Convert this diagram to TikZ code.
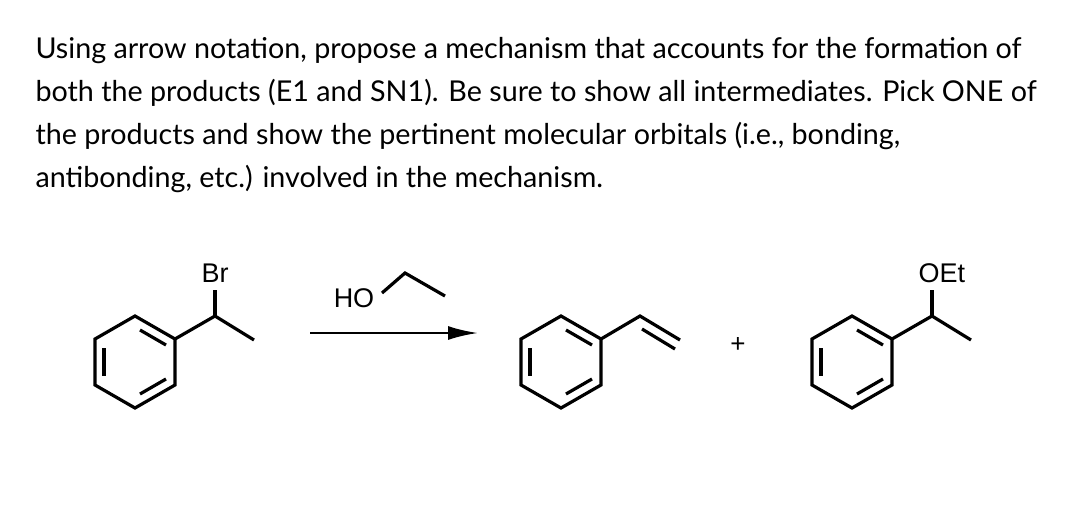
\documentclass[tikz,border=0pt]{standalone}
\usepackage{fontspec}
\usetikzlibrary{arrows.meta}
\setmainfont{Lato}
\newfontfamily\chemfont{Liberation Sans}
\begin{document}
\begin{tikzpicture}[x=1pt,y=-1pt,line width=3pt,
  bond/.style={line width=3.2pt,line cap=butt,line join=miter},
  lbl/.style={font=\chemfont\fontsize{27}{27}\selectfont,inner sep=0pt},
  txt/.style={font=\fontsize{28.7}{43}\selectfont,anchor=base west,inner sep=0pt}]
\useasboundingbox (0,0) rectangle (1084,528);
\node[txt] (l1) at (34,58) {Using arrow notation, propose a mechanism that accounts for the formation of};
\node[txt] (l2) at (34,101) {both the products (E1 and SN1). Be sure to show all intermediates. Pick ONE of};
\node[txt] (l3) at (34,144) {the products and show the pertinent molecular orbitals (i.e., bonding,};
\node[txt] (l4) at (34,187) {antibonding, etc.) involved in the mechanism.};
\tikzset{ring/.pic={
  \draw[bond] (0,-46) -- (40,-23) -- (40,23) -- (0,46) -- (-40,23) -- (-40,-23) -- cycle;
  \draw[bond] (5,-32) -- (31,-17);
  \draw[bond] (31,17) -- (5,32);
  \draw[bond] (-31,-14) -- (-31,14);
}}
\pic at (135,362) {ring};
\coordinate (c1) at (215,316);
\draw[bond] (175,339) -- (c1) -- (254,340);
\node[lbl] (br) at (215,273) {Br};
\draw[bond] (c1) -- (215,290);
\coordinate (a1) at (310,333);
\coordinate (a2) at (478,333);
\draw[bond,line width=2.6pt,-{Latex[length=30pt,width=14pt]}] (a1) -- (a2);
\node[lbl] (ho) at (354,298) {HO};
\draw[bond] (382,293) -- (405,273) -- (445,296);
\pic at (561,362) {ring};
\draw[bond] (601,339) -- (640,316) -- (680,340);
\draw[bond] (642,329) -- (675,349);
\node[lbl,font=\chemfont\fontsize{26}{26}\selectfont] (plus) at (738,345) {+};
\pic at (852,362) {ring};
\coordinate (c2) at (932,316);
\draw[bond] (892,339) -- (c2) -- (971,340);
\draw[bond] (c2) -- (932,290);
\node[lbl,anchor=west] (oet) at (917,273) {OEt};
\end{tikzpicture}
\end{document}
